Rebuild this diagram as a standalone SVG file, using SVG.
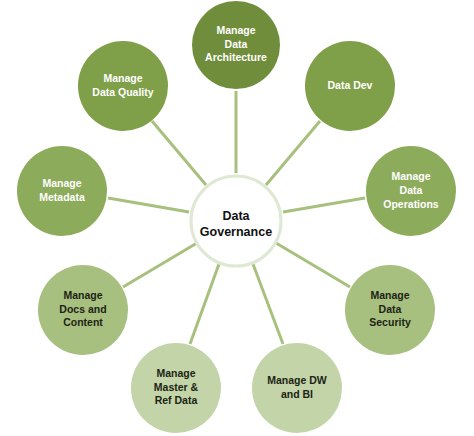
<svg xmlns="http://www.w3.org/2000/svg" width="474" height="436" viewBox="0 0 474 436">
<style>
.c1{fill:#6f8d3b}.c2{fill:#7f9f49}.c3{fill:#8dac5b}.c4{fill:#a7bf7f}.c5{fill:#c3d4a8}
.w{font-family:"Liberation Sans",Arial,sans-serif;font-weight:bold;font-size:10.5px;fill:#ffffff;text-anchor:middle}
.d{font-family:"Liberation Sans",Arial,sans-serif;font-weight:bold;font-size:10.5px;fill:#1c2414;text-anchor:middle}
.conn line{stroke:#a8c07e;stroke-width:3;stroke-linecap:butt}
</style>
<rect width="474" height="436" fill="#ffffff"/>
<g class="conn" id="connectors">
<line x1="236" y1="91" x2="236" y2="173"/>
<line x1="152" y1="121" x2="206" y2="185"/>
<line x1="320" y1="121" x2="266" y2="185"/>
<line x1="108" y1="198" x2="189" y2="212"/>
<line x1="365" y1="198" x2="283" y2="212"/>
<line x1="123" y1="287" x2="197" y2="243"/>
<line x1="350" y1="287" x2="276" y2="243"/>
<line x1="190" y1="344" x2="219" y2="264"/>
<line x1="283" y1="344" x2="253" y2="264"/>
</g>
<g id="center">
<circle cx="236" cy="221" r="45" fill="#ffffff" stroke="#dfe8d2" stroke-width="3"/>
<text x="236" y="220" style="font-family:'Liberation Sans',Arial,sans-serif;font-weight:bold;font-size:12.5px;fill:#111;text-anchor:middle">Data</text>
<text x="236" y="236" style="font-family:'Liberation Sans',Arial,sans-serif;font-weight:bold;font-size:12.5px;fill:#111;text-anchor:middle">Governance</text>
</g>
<g id="n-architecture">
<circle class="c1" cx="236" cy="45" r="44"/>
<text class="w" x="236" y="34">Manage</text>
<text class="w" x="236" y="47.5">Data</text>
<text class="w" x="236" y="61">Architecture</text>
</g>
<g id="n-quality">
<circle class="c2" cx="123" cy="86" r="45"/>
<text class="w" x="123" y="82">Manage</text>
<text class="w" x="123" y="96">Data Quality</text>
</g>
<g id="n-dev">
<circle class="c2" cx="350" cy="86" r="45"/>
<text class="w" x="350" y="89">Data Dev</text>
</g>
<g id="n-metadata">
<circle class="c3" cx="62" cy="191" r="45"/>
<text class="w" x="62" y="187">Manage</text>
<text class="w" x="62" y="201">Metadata</text>
</g>
<g id="n-operations">
<circle class="c3" cx="411" cy="191" r="45"/>
<text class="w" x="411" y="180">Manage</text>
<text class="w" x="411" y="194">Data</text>
<text class="w" x="411" y="208">Operations</text>
</g>
<g id="n-docs">
<circle class="c4" cx="83" cy="310" r="45"/>
<text class="d" x="83" y="299">Manage</text>
<text class="d" x="83" y="313">Docs and</text>
<text class="d" x="83" y="326">Content</text>
</g>
<g id="n-security">
<circle class="c4" cx="390" cy="310" r="45"/>
<text class="d" x="390" y="299">Manage</text>
<text class="d" x="390" y="313">Data</text>
<text class="d" x="390" y="326">Security</text>
</g>
<g id="n-master">
<circle class="c5" cx="176" cy="388" r="45"/>
<text class="d" x="176" y="377">Manage</text>
<text class="d" x="176" y="391">Master &amp;</text>
<text class="d" x="176" y="404">Ref Data</text>
</g>
<g id="n-dw">
<circle class="c5" cx="297" cy="388" r="45"/>
<text class="d" x="297" y="384">Manage DW</text>
<text class="d" x="297" y="398">and BI</text>
</g>
</svg>
